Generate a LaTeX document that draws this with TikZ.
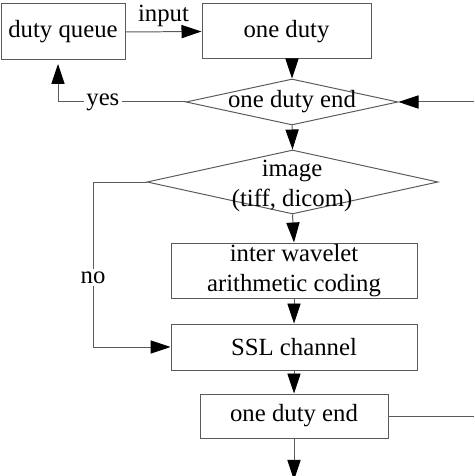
\documentclass[tikz,border=0pt]{standalone}
\usepackage{fontspec}
\setmainfont{Liberation Serif}
\usepackage{tikz}
\usetikzlibrary{shapes.geometric, arrows.meta, positioning, calc}
\definecolor{flowline}{RGB}{90,90,90}

\begin{document}
\begin{tikzpicture}[
  every node/.style={font=\fontsize{17.6pt}{21.4pt}\selectfont},
  box/.style={draw=flowline, line width=0.7pt, inner sep=0pt, align=center},
  decision/.style={diamond, draw=flowline, line width=0.7pt, inner sep=0pt},
  link/.style={draw=flowline, line width=0.7pt},
  arrow/.style={link, -{Triangle[length=0.5cm, width=0.33cm, color=black]}}
]
\useasboundingbox (0,0) rectangle (11.85,11.9);

% boxes and decisions
\node[box, minimum width=3.1cm, minimum height=1.4cm] (queue) at (1.575,11.1) {duty queue};
\node[box, minimum width=4.225cm, minimum height=1.375cm] (duty) at (7.1625,11.1125) {one duty};
\node[decision, minimum width=5.3cm, minimum height=1.15cm] (end1) at (7.3,9.35) {};
\node (end1text) at (end1) {one duty end};
\node[decision, minimum width=7.275cm, minimum height=1.6cm] (img) at (7.3125,7.35) {};
\node[align=center] (imgtext) at (7.3,7.24) {image\\(tiff, dicom)};
\node[box, minimum width=6.15cm, minimum height=1.375cm] (inter) at (7.35,5.1375) {inter wavelet\\arithmetic coding};
\node[box, minimum width=6.15cm, minimum height=1.15cm] (ssl) at (7.35,3.225) {SSL channel};
\node[box, minimum width=4.7cm, minimum height=1.1cm] (fin) at (7.35,1.5) {one duty end};

% free ends
\coordinate (qin) at (1.45,10.3);
\coordinate (rin) at (11.85,9.35);
\coordinate (rout) at (11.85,1.5);
\coordinate (bout) at (7.35,-0.1);
\coordinate (nocorner) at (2.325,7.35);

% connectors
\draw[arrow] (queue.east) -- node[midway, above] (input) {input} (duty.west);
\draw[arrow] (end1.north |- duty.south) -- (end1.north);
\draw[arrow] (end1.west) -| node[pos=0.324, fill=white, inner sep=2pt] (yes) {yes} (qin);
\draw[arrow] (rin) -- (end1.east);
\draw[arrow] (end1.south) -- (img.north);
\draw[arrow] (img.south) -- (inter.north);
\draw[arrow] (img.west) -- (nocorner) |- node[pos=0.29, fill=white, inner sep=2pt] (no) {no} (ssl.west);
\draw[arrow] (inter.south) -- (ssl.north);
\draw[arrow] (ssl.south) -- (fin.north);
\draw[link] (fin.east) -- (rout);
\draw[arrow] (fin.south) -- (bout);
\end{tikzpicture}
\end{document}
